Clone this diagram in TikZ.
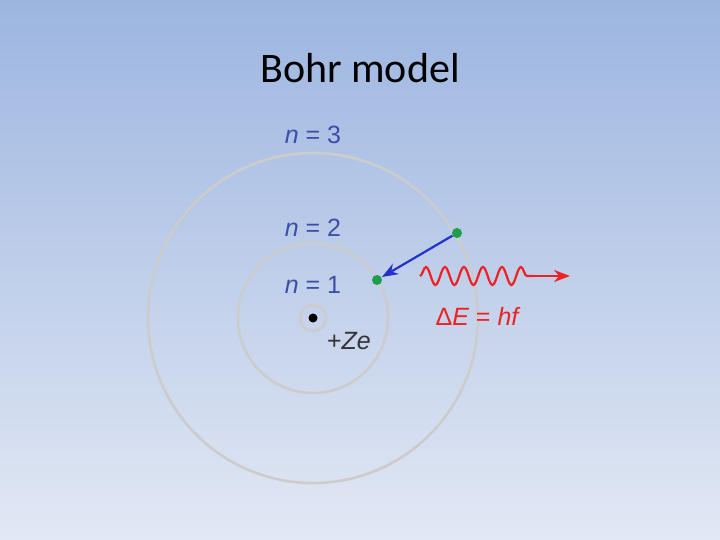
\documentclass[tikz,border=0pt]{standalone}
\usepackage{fontspec}
\setmainfont{Liberation Sans}
\newfontfamily\titlefont{Carlito}
\usetikzlibrary{decorations.pathmorphing,arrows.meta}
\definecolor{bgtop}{HTML}{9CB5E0}
\definecolor{bgbot}{HTML}{E2E8F4}
\definecolor{orbit}{HTML}{CCCCCC}
\definecolor{dotg}{HTML}{1E9E4A}
\definecolor{arrb}{HTML}{2233CC}
\definecolor{wred}{HTML}{EE2222}
\definecolor{lbl}{HTML}{3B4FA8}
\begin{document}
\begin{tikzpicture}[x=1pt,y=-1pt,
  orb/.style={draw=orbit,line width=2.6pt},
  lab/.style={font=\fontsize{25}{30}\selectfont,text=lbl},
  edot/.style={circle,fill=dotg,inner sep=0pt,minimum size=10pt}]
\shade[top color=bgtop,bottom color=bgbot] (0,0) rectangle (720,540);
\useasboundingbox (0,0) rectangle (720,540);
\node[font=\titlefont\fontsize{42}{48}\selectfont] (title) at (360,68) {Bohr model};
\coordinate (c) at (313,318);
\draw[orb] (c) circle (165);
\draw[orb] (c) circle (75);
\draw[orb] (c) circle (13);
\node[circle,fill=black,inner sep=0pt,minimum size=9pt] (nuc) at (c) {};
\node[lab] (n3) at (313,135) {\itshape n\upshape\ = 3};
\node[lab] (n2) at (313,228) {\itshape n\upshape\ = 2};
\node[lab] (n1) at (313,285) {\itshape n\upshape\ = 1};
\node[lab,text=black!80] (ze) at (349,341) {+\itshape Ze};
\node[edot] (e2) at (457,233) {};
\node[edot] (e1) at (377,280) {};
\draw[arrb,line width=2.2pt,-{Stealth[length=16pt,width=12pt]}] (e2) -- ([shift={(5,-3)}]e1.center);
\coordinate (w0) at (420,276);
\coordinate (w1) at (534,276);
\coordinate (w2) at (570,276);
\draw[wred,line width=2.2pt,decorate,decoration={snake,amplitude=9pt,segment length=19pt}] (w0) -- (w1);
\draw[wred,line width=2.2pt,-{Stealth[length=16pt,width=12pt]}] (w1) -- (w2);
\node[lab,text=wred] (de) at (477,316) {Δ\itshape E\upshape\ = \itshape hf};
\end{tikzpicture}
\end{document}
